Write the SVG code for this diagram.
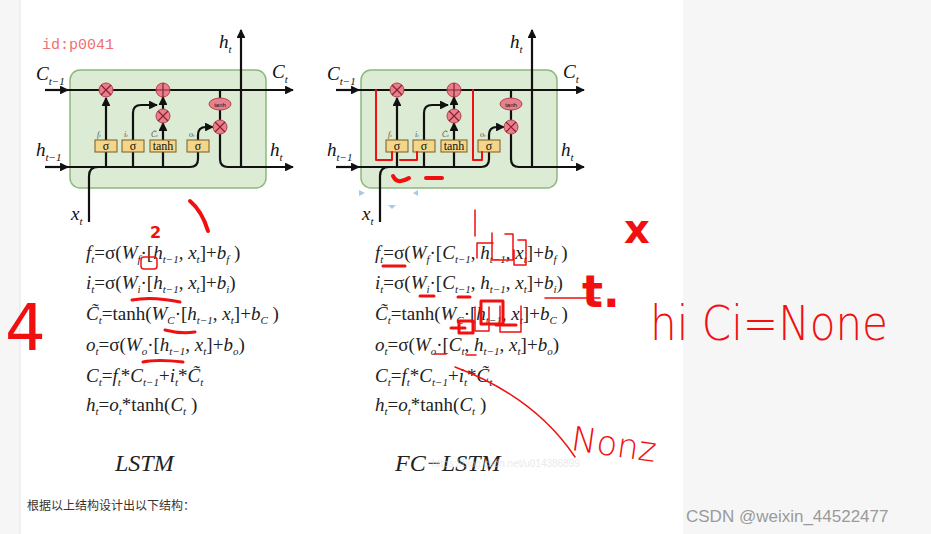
<svg xmlns="http://www.w3.org/2000/svg" width="931" height="534" viewBox="0 0 931 534">
<style>
.ln{stroke:#111;stroke-width:2.2;fill:none}
.ar{marker-end:url(#ah)}
.box{fill:#dcebd3;stroke:#8fb87f;stroke-width:1.5}
.gate{fill:#f3d68a;stroke:#7a5b20;stroke-width:1}
.op{fill:#e8808c;stroke:#b04050;stroke-width:1}
.opl{stroke:#8a2030;stroke-width:1.2}
.lbl{font-family:"Liberation Serif",serif;font-style:italic;font-size:19px;fill:#111}
.sub{font-size:11px}
.gl{font-family:"Liberation Serif",serif;font-style:italic;font-size:8px;fill:#555}
.gt{font-family:"Liberation Serif",serif;font-size:12px;fill:#111}
.eq{font-family:"Liberation Serif",serif;font-style:italic;font-size:19px;fill:#222}
.n{font-style:normal}
.red{stroke:#f01010;fill:none;stroke-linecap:round;stroke-linejoin:round}
.hw{font-family:"DejaVu Sans",sans-serif;fill:#f01010}
</style>
<defs>
<marker id="ah" viewBox="0 0 10 10" refX="9" refY="5" markerWidth="4" markerHeight="4" orient="auto"><path d="M0,0L10,5L0,10z" fill="#111"/></marker>
<g id="cell">
<rect class="box" x="70" y="70" width="196" height="118" rx="10"/>
<path class="ln ar" d="M45,90H68"/><path class="ln ar" d="M68,90H293"/>
<path class="ln ar" d="M45,167H68"/><path class="ln" d="M68,167H190q8,0 8,-8V152"/>
<path class="ln" d="M89,222V176q0,-9 9,-9"/>
<path class="ln" d="M106,167V152M133,167V152M163,167V152"/>
<path class="ln ar" d="M106,140V98"/>
<path class="ln ar" d="M133,140V113q0,-8 8,-8H157"/>
<path class="ln ar" d="M163,140V123"/>
<path class="ln ar" d="M163,109V97"/>
<path class="ln ar" d="M198,140V135q0,-8 8,-8H213"/>
<path class="ln" d="M220,90V98M220,110V120"/>
<path class="ln" d="M220,134V159q0,8 8,8H241"/>
<path class="ln ar" d="M241,167H293"/>
<path class="ln ar" d="M241,167V30"/>
<rect class="gate" x="95" y="140" width="22" height="12"/>
<rect class="gate" x="122" y="140" width="22" height="12"/>
<rect class="gate" x="150" y="140" width="26" height="12"/>
<rect class="gate" x="187" y="140" width="22" height="12"/>
<text class="gt" x="106" y="150" text-anchor="middle">σ</text>
<text class="gt" x="133" y="150" text-anchor="middle">σ</text>
<text class="gt" x="163" y="150" text-anchor="middle">tanh</text>
<text class="gt" x="198" y="150" text-anchor="middle">σ</text>
<text class="gl" x="97" y="137">f<tspan font-size="5">t</tspan></text>
<text class="gl" x="124" y="137">i<tspan font-size="5">t</tspan></text>
<text class="gl" x="151" y="137">C̃<tspan font-size="5">t</tspan></text>
<text class="gl" x="189" y="137">o<tspan font-size="5">t</tspan></text>
<circle class="op" cx="106" cy="90" r="7"/><path class="opl" d="M101,85L111,95M111,85L101,95"/>
<circle class="op" cx="163" cy="90" r="7"/><path class="opl" d="M163,83V97M156,90H170"/>
<circle class="op" cx="163" cy="116" r="7"/><path class="opl" d="M158,111L168,121M168,111L158,121"/>
<circle class="op" cx="220" cy="127" r="7"/><path class="opl" d="M215,122L225,132M225,122L215,132"/>
<ellipse class="op" cx="220" cy="104" rx="11" ry="6"/>
<text x="220" y="107" text-anchor="middle" font-family="Liberation Sans,sans-serif" font-size="6" fill="#111">tanh</text>
<text class="lbl" x="36" y="80">C<tspan class="sub" dy="5">t−1</tspan></text>
<text class="lbl" x="36" y="156">h<tspan class="sub" dy="5">t−1</tspan></text>
<text class="lbl" x="219" y="48">h<tspan class="sub" dy="5">t</tspan></text>
<text class="lbl" x="272" y="78">C<tspan class="sub" dy="5">t</tspan></text>
<text class="lbl" x="270" y="156">h<tspan class="sub" dy="5">t</tspan></text>
<text class="lbl" x="71" y="220">x<tspan class="sub" dy="5">t</tspan></text>
</g>
</defs>
<rect width="931" height="534" fill="#f6f6f6"/>
<rect x="20" y="0" width="663" height="534" fill="#fff"/>
<line x1="20" y1="0" x2="20" y2="534" stroke="#e6e6e6"/>
<text x="42" y="49" font-family="Liberation Mono,monospace" font-size="15" fill="#f07070">id:p0041</text>
<g id="lstm"><use href="#cell"/></g>
<g id="fclstm"><use href="#cell" transform="translate(291,0)"/>
<path class="red" stroke-width="2" d="M376,90V160H392V152M400,160H417V152M473,90V160H482V152"/>
<path class="red" stroke-width="4" d="M393,176q3,6 8,5t8,-3M426,178H442"/>
<path d="M359,190l6,3l-6,3z M418,190l-5,3l5,3z M388,205h8l-4,4z" fill="#a8cce8"/>
</g>
<g id="eqs-left" class="eq">
<text x="86" y="259">f<tspan class="sub" dy="4">t</tspan><tspan dy="-4" class="n">=σ(</tspan>W<tspan class="sub" dy="4">f</tspan><tspan dy="-4" class="n">·[</tspan>h<tspan class="sub" dy="4">t−1</tspan><tspan dy="-4" class="n">, </tspan>x<tspan class="sub" dy="4">t</tspan><tspan dy="-4" class="n">]+</tspan>b<tspan class="sub" dy="4">f</tspan><tspan dy="-4" class="n"> )</tspan></text>
<text x="86" y="289">i<tspan class="sub" dy="4">t</tspan><tspan dy="-4" class="n">=σ(</tspan>W<tspan class="sub" dy="4">i</tspan><tspan dy="-4" class="n">·[</tspan>h<tspan class="sub" dy="4">t−1</tspan><tspan dy="-4" class="n">, </tspan>x<tspan class="sub" dy="4">t</tspan><tspan dy="-4" class="n">]+</tspan>b<tspan class="sub" dy="4">i</tspan><tspan dy="-4" class="n">)</tspan></text>
<text x="86" y="320">C̃<tspan class="sub" dy="4">t</tspan><tspan dy="-4" class="n">=tanh(</tspan>W<tspan class="sub" dy="4">C</tspan><tspan dy="-4" class="n">·[</tspan>h<tspan class="sub" dy="4">t−1</tspan><tspan dy="-4" class="n">, </tspan>x<tspan class="sub" dy="4">t</tspan><tspan dy="-4" class="n">]+</tspan>b<tspan class="sub" dy="4">C</tspan><tspan dy="-4" class="n"> )</tspan></text>
<text x="86" y="351">o<tspan class="sub" dy="4">t</tspan><tspan dy="-4" class="n">=σ(</tspan>W<tspan class="sub" dy="4">o</tspan><tspan dy="-4" class="n">·[</tspan>h<tspan class="sub" dy="4">t−1</tspan><tspan dy="-4" class="n">, </tspan>x<tspan class="sub" dy="4">t</tspan><tspan dy="-4" class="n">]+</tspan>b<tspan class="sub" dy="4">o</tspan><tspan dy="-4" class="n">)</tspan></text>
<text x="86" y="382">C<tspan class="sub" dy="4">t</tspan><tspan dy="-4" class="n">=</tspan>f<tspan class="sub" dy="4">t</tspan><tspan dy="-4" class="n">*</tspan>C<tspan class="sub" dy="4">t−1</tspan><tspan dy="-4" class="n">+</tspan>i<tspan class="sub" dy="4">t</tspan><tspan dy="-4" class="n">*</tspan>C̃<tspan class="sub" dy="4">t</tspan></text>
<text x="86" y="411">h<tspan class="sub" dy="4">t</tspan><tspan dy="-4" class="n">=</tspan>o<tspan class="sub" dy="4">t</tspan><tspan dy="-4" class="n">*tanh(</tspan>C<tspan class="sub" dy="4">t</tspan><tspan dy="-4" class="n"> )</tspan></text>
</g>
<g id="eqs-right" class="eq">
<text x="375" y="259">f<tspan class="sub" dy="4">t</tspan><tspan dy="-4" class="n">=σ(</tspan>W<tspan class="sub" dy="4">f</tspan><tspan dy="-4" class="n">·[</tspan>C<tspan class="sub" dy="4">t−1</tspan><tspan dy="-4" class="n">, </tspan>h<tspan class="sub" dy="4">t−1</tspan><tspan dy="-4" class="n">, </tspan>x<tspan class="sub" dy="4">t</tspan><tspan dy="-4" class="n">]+</tspan>b<tspan class="sub" dy="4">f</tspan><tspan dy="-4" class="n"> )</tspan></text>
<text x="375" y="289">i<tspan class="sub" dy="4">t</tspan><tspan dy="-4" class="n">=σ(</tspan>W<tspan class="sub" dy="4">i</tspan><tspan dy="-4" class="n">·[</tspan>C<tspan class="sub" dy="4">t−1</tspan><tspan dy="-4" class="n">, </tspan>h<tspan class="sub" dy="4">t−1</tspan><tspan dy="-4" class="n">, </tspan>x<tspan class="sub" dy="4">t</tspan><tspan dy="-4" class="n">]+</tspan>b<tspan class="sub" dy="4">i</tspan><tspan dy="-4" class="n">)</tspan></text>
<text x="375" y="320">C̃<tspan class="sub" dy="4">t</tspan><tspan dy="-4" class="n">=tanh(</tspan>W<tspan class="sub" dy="4">C</tspan><tspan dy="-4" class="n">·[</tspan>h<tspan class="sub" dy="4">t−1</tspan><tspan dy="-4" class="n">, </tspan>x<tspan class="sub" dy="4">t</tspan><tspan dy="-4" class="n">]+</tspan>b<tspan class="sub" dy="4">C</tspan><tspan dy="-4" class="n"> )</tspan></text>
<text x="375" y="351">o<tspan class="sub" dy="4">t</tspan><tspan dy="-4" class="n">=σ(</tspan>W<tspan class="sub" dy="4">o</tspan><tspan dy="-4" class="n">·[</tspan>C<tspan class="sub" dy="4">t</tspan><tspan dy="-4" class="n">, </tspan>h<tspan class="sub" dy="4">t−1</tspan><tspan dy="-4" class="n">, </tspan>x<tspan class="sub" dy="4">t</tspan><tspan dy="-4" class="n">]+</tspan>b<tspan class="sub" dy="4">o</tspan><tspan dy="-4" class="n">)</tspan></text>
<text x="375" y="382">C<tspan class="sub" dy="4">t</tspan><tspan dy="-4" class="n">=</tspan>f<tspan class="sub" dy="4">t</tspan><tspan dy="-4" class="n">*</tspan>C<tspan class="sub" dy="4">t−1</tspan><tspan dy="-4" class="n">+</tspan>i<tspan class="sub" dy="4">t</tspan><tspan dy="-4" class="n">*</tspan>C̃<tspan class="sub" dy="4">t</tspan></text>
<text x="375" y="411">h<tspan class="sub" dy="4">t</tspan><tspan dy="-4" class="n">=</tspan>o<tspan class="sub" dy="4">t</tspan><tspan dy="-4" class="n">*tanh(</tspan>C<tspan class="sub" dy="4">t</tspan><tspan dy="-4" class="n"> )</tspan></text>
</g>
<text x="115" y="471" font-family="Liberation Serif,serif" font-style="italic" font-size="24" fill="#222">LSTM</text>
<text x="395" y="471" font-family="Liberation Serif,serif" font-style="italic" font-size="24" fill="#222">FC−LSTM</text>
<text x="432" y="467" font-family="Liberation Sans,sans-serif" font-size="10" fill="#ddd" opacity="0.6">https://blog.csdn.net/u014386899</text>
<text x="27" y="510" font-family="Noto Sans CJK SC,sans-serif" font-size="12" fill="#333">根据以上结构设计出以下结构：</text>
<text x="686" y="522" font-family="Liberation Sans,sans-serif" font-size="17" fill="#9a9a9a">CSDN @weixin_44522477</text>
<g id="annotations">
<rect x="141" y="257" width="16" height="12" rx="3" class="red" stroke-width="1.5"/>
<path class="red" stroke-width="4" d="M190,201q12,10 18,30"/>
<text class="hw" x="150" y="238" font-size="16" font-weight="bold">2</text>
<text class="hw" x="5" y="350" font-size="64">4</text>
<path class="red" stroke-width="3" d="M132,300q20,-4 48,2M165,330q15,4 30,2M143,362q14,-3 40,0"/>
<path class="red" stroke-width="1.5" d="M475,210V236M492,233V260H513V234H505M514,250V265H526V240H518M477,258V243H493"/>
<path class="red" stroke-width="3" d="M383,266h22M420,296h14M458,297h12M451,328h14M459,333v-12h14v12z M481,324v-23h22v23zM496,325h20"/>
<path class="red" stroke-width="1.5" d="M475,307v24h14v-24M500,306v26h21v-26M434,354h12M466,355h10M455,367q80,30 120,90M545,298H600"/>
<text class="hw" x="624" y="243" font-size="40" font-weight="bold">x</text>
<text class="hw" x="582" y="307" font-size="44" font-weight="bold">t.</text>
<text class="hw" x="650" y="340" font-size="48" textLength="238" lengthAdjust="spacingAndGlyphs" style="font-weight:200">hi Ci=None</text>
<text class="hw" x="570" y="450" font-size="34" transform="rotate(8 570 450)" style="font-weight:200">Nonz</text>
</g>
</svg>
